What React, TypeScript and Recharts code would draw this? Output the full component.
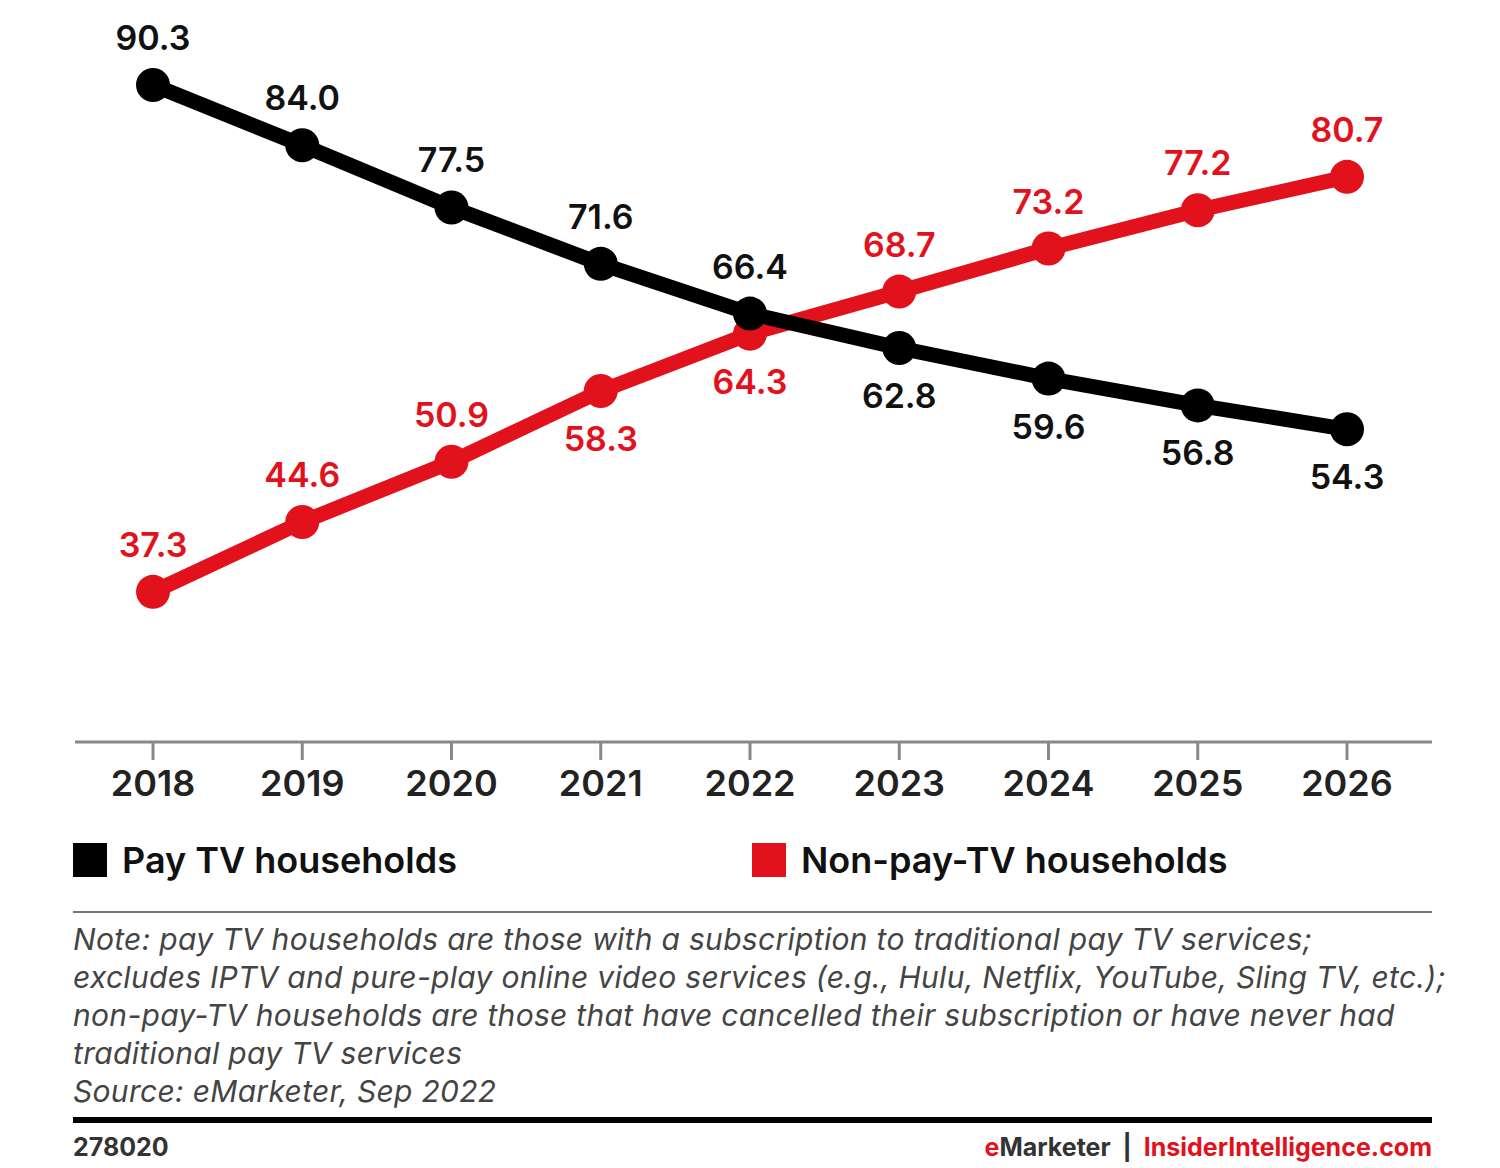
import { LineChart, Line, XAxis, YAxis, LabelList } from "recharts";

const years = ["2018", "2019", "2020", "2021", "2022", "2023", "2024", "2025", "2026"];
const payTv = [90.3, 84.0, 77.5, 71.6, 66.4, 62.8, 59.6, 56.8, 54.3];
const nonPayTv = [37.3, 44.6, 50.9, 58.3, 64.3, 68.7, 73.2, 77.2, 80.7];

const RED = "#e2121c";
const FONT = "Inter, 'Noto Sans', sans-serif";

const chartData = years.map((year, i) => ({ year, pay: payTv[i], nonPay: nonPayTv[i] }));

const makeLabel = (color: string, below: (i: number) => boolean) => (props: any) => {
  const { x, y, value, index } = props;
  const dy = below(index) ? 60 : -35;
  return (
    <text
      x={x}
      y={y + dy}
      textAnchor="middle"
      fill={color}
      fontFamily={FONT}
      fontSize={34}
      fontWeight={600}
    >
      {Number(value).toFixed(1)}
    </text>
  );
};

const payLabel = makeLabel("#111", (i) => i >= 5);
const nonPayLabel = makeLabel(RED, (i) => i === 3 || i === 4);

const noteLines = [
  "Note: pay TV households are those with a subscription to traditional pay TV services;",
  "excludes IPTV and pure-play online video services (e.g., Hulu, Netflix, YouTube, Sling TV, etc.);",
  "non-pay-TV households are those that have cancelled their subscription or have never had",
  "traditional pay TV services",
  "Source: eMarketer, Sep 2022",
];

export default function App() {
  return (
    <div
      style={{
        position: "absolute",
        left: 0,
        top: 0,
        width: 1500,
        height: 1168,
        background: "#fff",
        fontFamily: FONT,
        overflow: "hidden",
      }}
    >
      <LineChart
        width={1500}
        height={820}
        data={chartData}
        margin={{ top: 20, right: 68, left: 75, bottom: 0 }}
      >
        <XAxis
          dataKey="year"
          height={78}
          padding={{ left: 78, right: 85 }}
          axisLine={{ stroke: "#888", strokeWidth: 3 }}
          tickLine={{ stroke: "#888", strokeWidth: 3 }}
          tickSize={18}
          tickMargin={10}
          tick={{ fill: "#222", fontSize: 36, fontWeight: 600, fontFamily: FONT }}
        />
        <YAxis hide domain={[21.6, 97.1]} />
        <Line
          dataKey="nonPay"
          stroke={RED}
          strokeWidth={15}
          dot={{ r: 17, fill: RED, stroke: RED, strokeWidth: 0 }}
          isAnimationActive={false}
        >
          <LabelList dataKey="nonPay" content={nonPayLabel} />
        </Line>
        <Line
          dataKey="pay"
          stroke="#000"
          strokeWidth={15}
          dot={{ r: 17, fill: "#000", stroke: "#000", strokeWidth: 0 }}
          isAnimationActive={false}
        >
          <LabelList dataKey="pay" content={payLabel} />
        </Line>
      </LineChart>

      {/* legend */}
      <div style={{ position: "absolute", top: 838, left: 73, display: "flex", alignItems: "center" }}>
        <div style={{ width: 34, height: 34, background: "#000" }} />
        <span style={{ marginLeft: 15, fontSize: 36, fontWeight: 600, color: "#111" }}>Pay TV households</span>
      </div>
      <div style={{ position: "absolute", top: 838, left: 752, display: "flex", alignItems: "center" }}>
        <div style={{ width: 34, height: 34, background: RED }} />
        <span style={{ marginLeft: 15, fontSize: 36, fontWeight: 600, color: "#111" }}>Non-pay-TV households</span>
      </div>

      <div style={{ position: "absolute", top: 911, left: 73, width: 1359, height: 2, background: "#777" }} />

      <div
        style={{
          position: "absolute",
          top: 920,
          left: 73,
          width: 1420,
          fontFamily: FONT,
          fontStyle: "italic",
          fontSize: 30,
          letterSpacing: 0.3,
          lineHeight: "38px",
          color: "#444",
          whiteSpace: "pre",
        }}
      >
        {noteLines.map((l) => (
          <div key={l}>{l}</div>
        ))}
      </div>

      <div style={{ position: "absolute", top: 1117, left: 73, width: 1359, height: 6, background: "#000" }} />

      <div
        style={{
          position: "absolute",
          top: 1132,
          left: 73,
          fontSize: 25,
          fontWeight: 700,
          color: "#333",
        }}
      >
        278020
      </div>
      <div
        style={{
          position: "absolute",
          top: 1132,
          right: 68,
          fontSize: 25,
          fontWeight: 700,
          color: "#333",
          whiteSpace: "pre",
        }}
      >
        <span style={{ color: RED }}>e</span>Marketer{"  |  "}
        <span style={{ color: RED }}>InsiderIntelligence.com</span>
      </div>
    </div>
  );
}
